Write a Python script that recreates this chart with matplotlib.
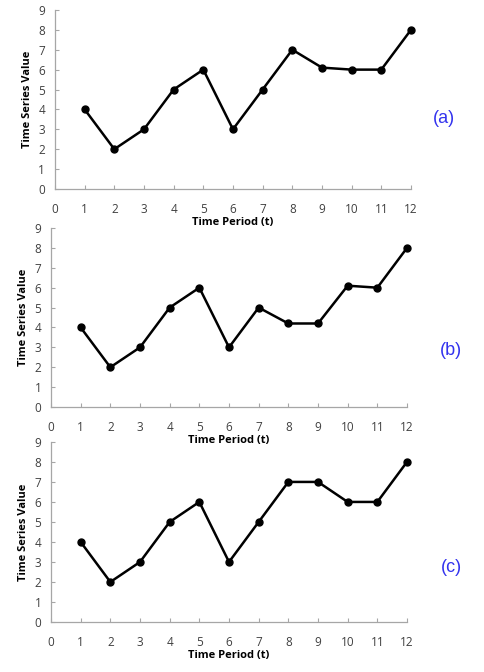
import matplotlib.pyplot as plt

# data to plot
t = [1, 2, 3, 4, 5, 6, 7, 8, 9, 10, 11, 12]
series_a = [4, 2, 3, 5, 6, 3, 5, 7, 6.1, 6, 6, 8]
series_b = [4, 2, 3, 5, 6, 3, 5, 4.2, 4.2, 6.1, 6, 8]
series_c = [4, 2, 3, 5, 6, 3, 5, 7, 7, 6, 6, 8]
panel_labels = ['(a)', '(b)', '(c)']

plt.rcParams['font.family'] = ['Open Sans', 'DejaVu Sans']

fig = plt.figure(figsize=(4.84, 6.72), dpi=100)

# axes rectangles in figure fraction, plus where the panel tag sits
boxes = [(0.1136, 0.7188, 0.7355, 0.2664),
         (0.1054, 0.3943, 0.7355, 0.2664),
         (0.1054, 0.0744, 0.7355, 0.2680)]
tag_pos = [(0.917, 0.824), (0.932, 0.479), (0.932, 0.155)]

for values, box, tag, pos in zip([series_a, series_b, series_c], boxes, panel_labels, tag_pos):
    ax = fig.add_axes(box)
    ax.patch.set_visible(False)  # so the x label of the panel above stays visible
    ax.plot(t, values, color='black', lw=1.8, marker='o', markersize=5, clip_on=False)
    ax.set_xlim(0, 12)
    ax.set_ylim(0, 9)
    ax.set_xticks(range(0, 13))
    ax.set_yticks(range(0, 10))
    for s in ['top', 'right']:
        ax.spines[s].set_visible(False)
    for s in ['left', 'bottom']:
        ax.spines[s].set_color('#a6a6a6')
        ax.spines[s].set_linewidth(0.9)
    ax.tick_params(direction='in', length=3, width=0.8, color='#a6a6a6',
                   labelsize=8.5, labelcolor='#404040')
    ax.tick_params(axis='x', pad=10)
    ax.tick_params(axis='y', pad=7)
    ax.set_xlabel('Time Period (t)', fontsize=8, fontweight='bold', labelpad=1)
    ax.set_ylabel('Time Series Value', fontsize=8, fontweight='bold', labelpad=4)
    fig.text(pos[0], pos[1], tag, color='#3333ee', fontsize=13,
             family=['Liberation Sans', 'DejaVu Sans'], ha='center', va='center')

fig.savefig('out.png', dpi=100)
